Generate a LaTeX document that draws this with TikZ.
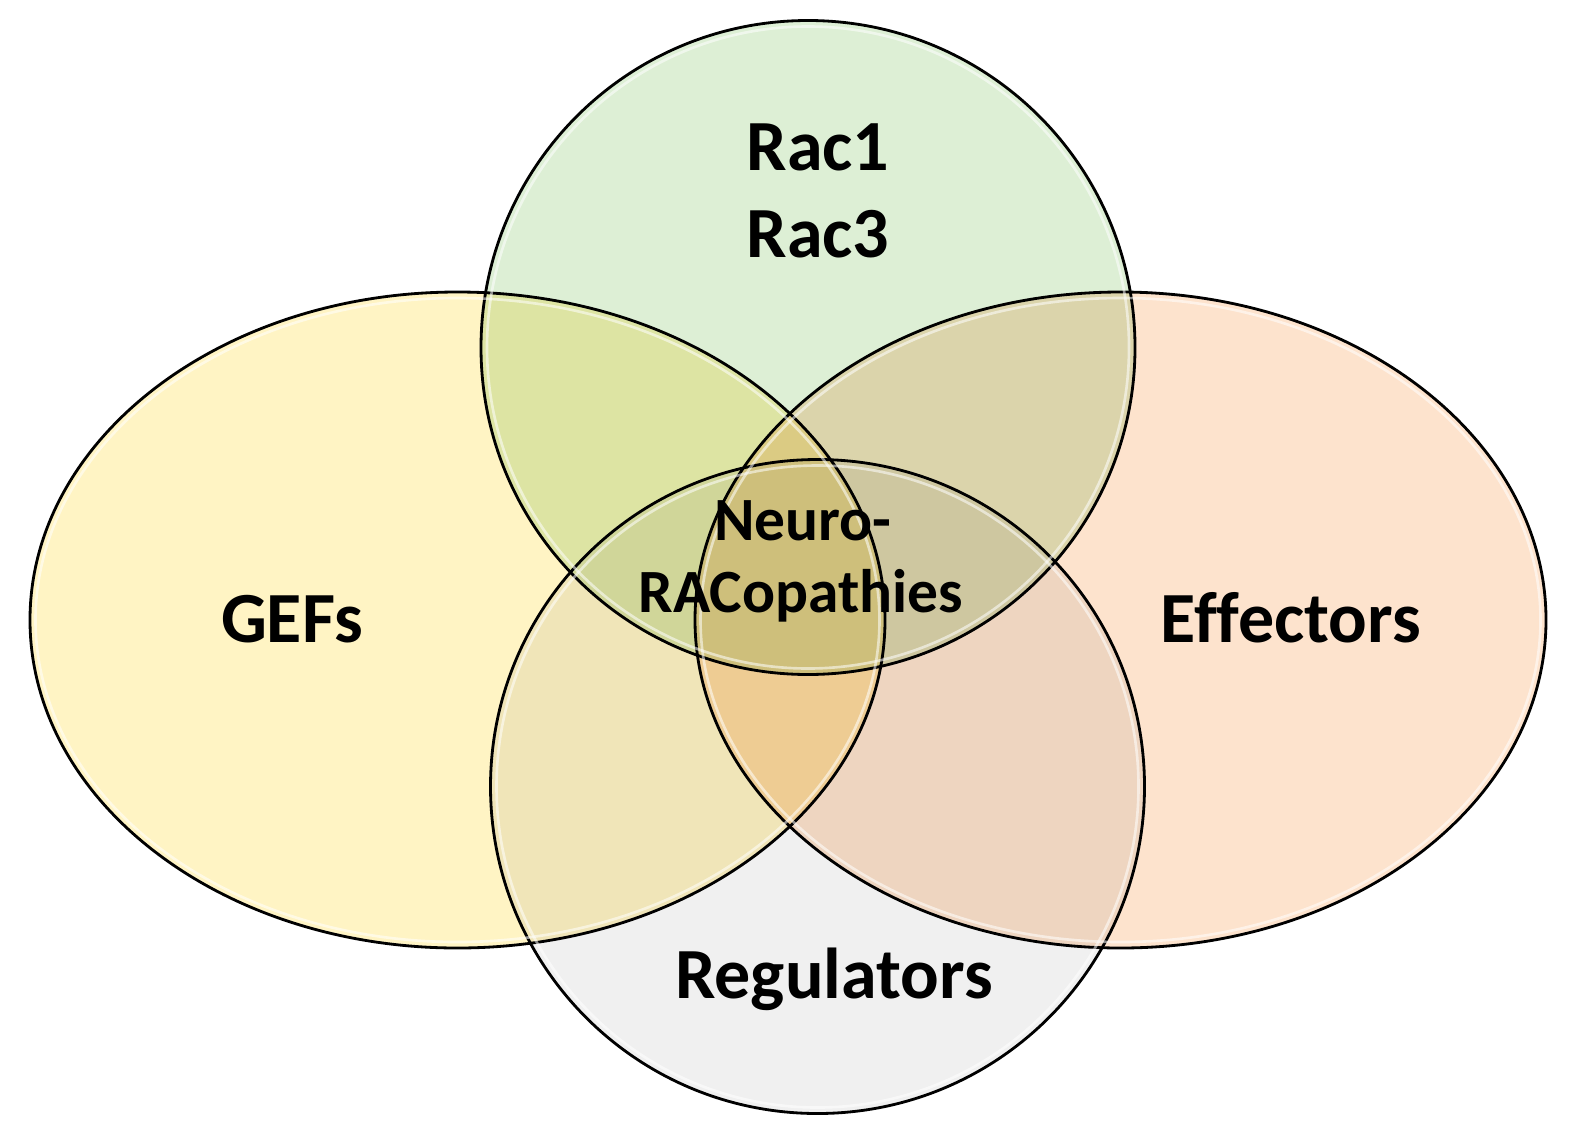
\documentclass[tikz,border=0pt]{standalone}
\usepackage{fontspec}
\setmainfont{Carlito}[Ligatures=CommonOff]

\definecolor{gefcol}{RGB}{255,244,196}
\definecolor{raccol}{RGB}{221,239,213}
\definecolor{effcol}{RGB}{253,227,205}
\definecolor{regcol}{RGB}{240,240,240}

\begin{document}
\begin{tikzpicture}[x=0.02cm, y=-0.02cm,
    venn/.style={draw=black, line width=1.6pt},
    glint/.style={draw=white, line width=1.5pt, draw opacity=0.55},
    biglbl/.style={anchor=base, inner sep=0pt, font=\fontsize{41}{49}\selectfont\bfseries},
    midlbl/.style={anchor=base, inner sep=0pt, font=\fontsize{35}{42}\selectfont\bfseries}]
    \useasboundingbox (0,0) rectangle (1574,1139);

    % --- the four sets (colours mixed where they overlap) ---
    \begin{scope}[blend group=multiply]
        \draw[venn, fill=gefcol] (457.5,620) ellipse [x radius=427.5, y radius=328];
        \draw[venn, fill=effcol] (1120.5,620) ellipse [x radius=425.5, y radius=328];
        \draw[venn, fill=raccol] (808,347.5) circle [radius=327];
        \draw[venn, fill=regcol] (817.5,786.5) circle [radius=327];
    \end{scope}
    % soft rim just inside each outline
    \draw[glint] (457.5,620) ellipse [x radius=422, y radius=322];
    \draw[glint] (1120.5,620) ellipse [x radius=420, y radius=322];
    \draw[glint] (808,347.5) circle [radius=321];
    \draw[glint] (817.5,786.5) circle [radius=321];

    % --- labels ---
    \node[biglbl] (rac1) at (818,170) {Rac1};
    \node[biglbl] (rac3) at (818,257) {Rac3};
    \node[biglbl] (gefs) at (292,642) {GEFs};
    \node[biglbl] (effectors) at (1291,642) {Effectors};
    \node[biglbl] (regulators) at (834,998) {Regulators};
    \node[midlbl] (neuro) at (803,540) {Neuro-};
    \node[midlbl] (racopathies) at (801,612) {RACopathies};
\end{tikzpicture}
\end{document}
